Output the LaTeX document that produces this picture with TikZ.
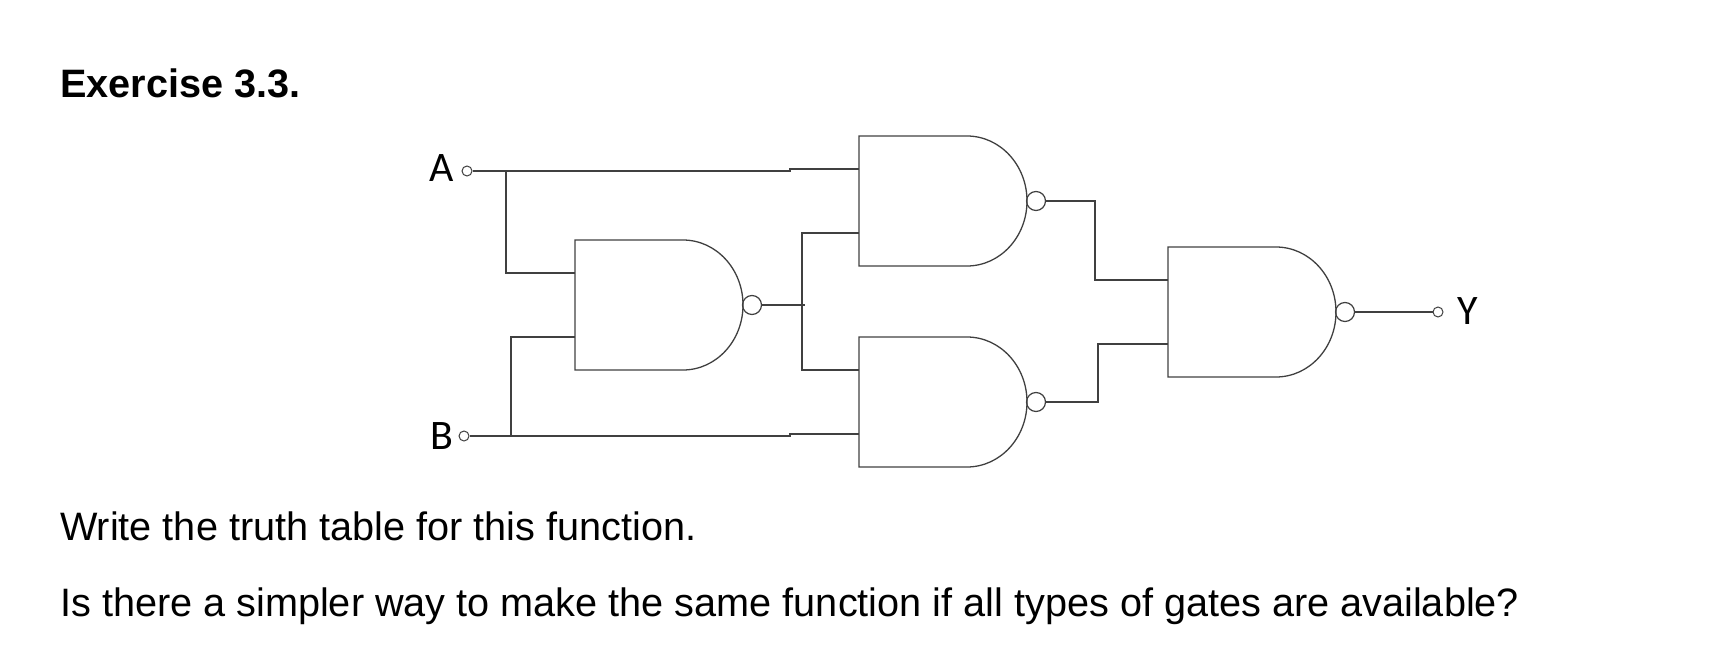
\documentclass[tikz,border=0pt]{standalone}
\usepackage{fontspec}
\setmainfont{Liberation Sans}
\newfontfamily\pinfont{Carlito}
\tikzset{
	wire/.style={line width=1.3pt,black!75},
	term/.style={circle,draw,black!75,line width=1pt,minimum size=10pt,inner sep=0pt},
	pinlabel/.style={font=\pinfont\fontsize{42}{44}\selectfont},
	txt/.style={anchor=base west,inner sep=0pt,font=\fontsize{39.65}{44}\selectfont},
	nandgate/.pic={
		\draw[wire] (-84,-65) -- (24,-65) .. controls (57,-65) and (84,-36) .. (84,0)
			.. controls (84,36) and (57,65) .. (24,65) -- (-84,65) -- cycle;
		\node[circle,draw,black!75,line width=1.2pt,minimum size=19pt,inner sep=0pt] (-bub) at (93,0) {};
		\coordinate (-in1) at (-84,-32);
		\coordinate (-in2) at (-84,32);
		\coordinate (-out) at (102.5,0);
	}
}
\begin{document}
\begin{tikzpicture}[x=1pt,y=-1pt]
\useasboundingbox (0,0) rectangle (1722,650);
\node[txt,font=\bfseries\fontsize{39.65}{44}\selectfont] (title) at (60,97.5) {Exercise 3.3.};
\node[txt] (q1) at (60,540) {Write the truth table for this function.};
\node[txt] (q2) at (60,616) {Is there a simpler way to make the same function if all types of gates are available?};

\pic (gm) at (659,305) {nandgate};
\pic (gt) at (943,201) {nandgate};
\pic (gb) at (943,402) {nandgate};
\pic (gr) at (1252,312) {nandgate};

\node[term] (ina) at (467,171) {};
\node[term] (inb) at (464,436) {};
\node[term] (outy) at (1438,312) {};
\node[pinlabel] (la) at (442,168) {A};
\node[pinlabel] (lb) at (442,436) {B};
\node[pinlabel] (ly) at (1468,311) {Y};

\coordinate (ja) at (506,171);
\coordinate (jb) at (511,436);
\coordinate (sa) at (790,171);
\coordinate (sb) at (790,436);
\coordinate (jm) at (802,305);
\coordinate (jn) at (805,305);
\coordinate (xt) at (1095,240);
\coordinate (xb) at (1098,373);

\draw[wire] (ina) -- (sa) |- (gt-in1);
\draw[wire] (inb) -- (sb) |- (gb-in2);
\draw[wire] (ja) |- (gm-in1);
\draw[wire] (jb) |- (gm-in2);
\draw[wire] (gm-out) -- (jn);
\draw[wire] (jm) |- (gt-in2);
\draw[wire] (jm) |- (gb-in1);
\draw[wire] (gt-out) -| (xt) |- (gr-in1);
\draw[wire] (gb-out) -| (xb) |- (gr-in2);
\draw[wire] (gr-out) -- (outy);
\end{tikzpicture}
\end{document}
